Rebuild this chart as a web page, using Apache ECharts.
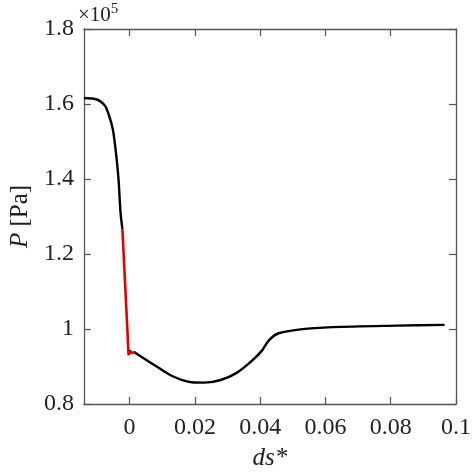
<!DOCTYPE html>
<html>
<head>
<meta charset="utf-8">
<script src="https://cdn.jsdelivr.net/npm/echarts@6/dist/echarts.min.js"></script>
<style>html,body{margin:0;padding:0;background:#fff}#chart{width:474px;height:476px}</style>
</head>
<body>
<div id="chart"></div>
<script>
// (P in units of 1e5 Pa)
var blackA = [[-0.014,1.616],[-0.0110,1.614],[-0.0093,1.609],[-0.0075,1.595],[-0.0064,1.572],[-0.0052,1.535],[-0.0044,1.487],[-0.0034,1.40],[-0.0028,1.313],[-0.0022,1.266]];
var redSeg = [[-0.0022,1.266],[-0.0003,0.930],[0.0001,0.943],[0.0006,0.935],[0.0013,0.939]];
var blackB = [[0.0013,0.939],[0.0043,0.922],[0.0083,0.900],[0.0132,0.874],[0.019,0.858],[0.023,0.857],[0.0279,0.864],[0.0328,0.883],[0.0377,0.917],[0.0406,0.943],[0.0426,0.969],[0.0455,0.988],[0.0524,0.999],[0.0622,1.005],[0.0818,1.009],[0.0965,1.011]];
var xTicks = [0,0.02,0.04,0.06,0.08,0.1];
var yTicks = [0.8,1,1.2,1.4,1.6,1.8];

var font = 'Liberation Serif';
var axisLine = {onZero:false,lineStyle:{color:'#555',width:1.3}};
var tick = {show:true,inside:true,length:7,lineStyle:{color:'#555',width:1.2},customValues:xTicks};
var ytick = {show:true,inside:true,length:7,lineStyle:{color:'#555',width:1.2},customValues:yTicks};
var myChart = echarts.init(document.getElementById('chart'));
var option = {
    animation:false,
    grid:{left:74,right:13,top:29,bottom:61},
    xAxis:[{
        type:'value',min:-0.014,max:0.1,
        axisLine:axisLine,splitLine:{show:false},
        axisTick:tick,
        axisLabel:{customValues:xTicks,fontFamily:font,fontSize:24,color:'#222',margin:12,
            formatter:function(v){return String(Math.round(v*100)/100);}},
        name:'ds*',nameLocation:'middle',nameGap:42,
        nameTextStyle:{fontFamily:font,fontStyle:'italic',fontSize:25,color:'#222'}
    },{
        type:'value',position:'top',min:-0.014,max:0.1,
        axisLine:axisLine,splitLine:{show:false},
        axisTick:tick,axisLabel:{show:false}
    }],
    yAxis:[{
        type:'value',min:0.8,max:1.8,interval:0.2,
        axisLine:axisLine,splitLine:{show:false},
        axisTick:ytick,
        axisLabel:{customValues:yTicks,fontFamily:font,fontSize:24,color:'#222',margin:10,
            formatter:function(v){return String(Math.round(v*10)/10);}},
        name:'{i|P} [Pa]',nameLocation:'middle',nameGap:50,
        nameTextStyle:{fontFamily:font,fontSize:25,color:'#222',rich:{i:{fontFamily:font,fontStyle:'italic',fontSize:25}}}
    },{
        type:'value',position:'right',min:0.8,max:1.8,interval:0.2,
        axisLine:axisLine,splitLine:{show:false},
        axisTick:ytick,axisLabel:{show:false}
    }],
    graphic:[{
        type:'text',left:78,top:2,
        style:{text:'×10{s|5}',fontFamily:font,fontSize:21,fill:'#222',
            rich:{s:{fontFamily:font,fontSize:15,verticalAlign:'top',padding:[0,0,12,0]}}}
    }],
    series:[
        {type:'line',data:blackA,showSymbol:false,smooth:0.3,lineStyle:{color:'#000',width:2.4}},
        {type:'line',data:blackB,showSymbol:false,smooth:0.3,lineStyle:{color:'#000',width:2.4}},
        {type:'line',data:redSeg,showSymbol:false,lineStyle:{color:'#e00000',width:2.6}}
    ]
};
myChart.setOption(option);
</script>
</body>
</html>
